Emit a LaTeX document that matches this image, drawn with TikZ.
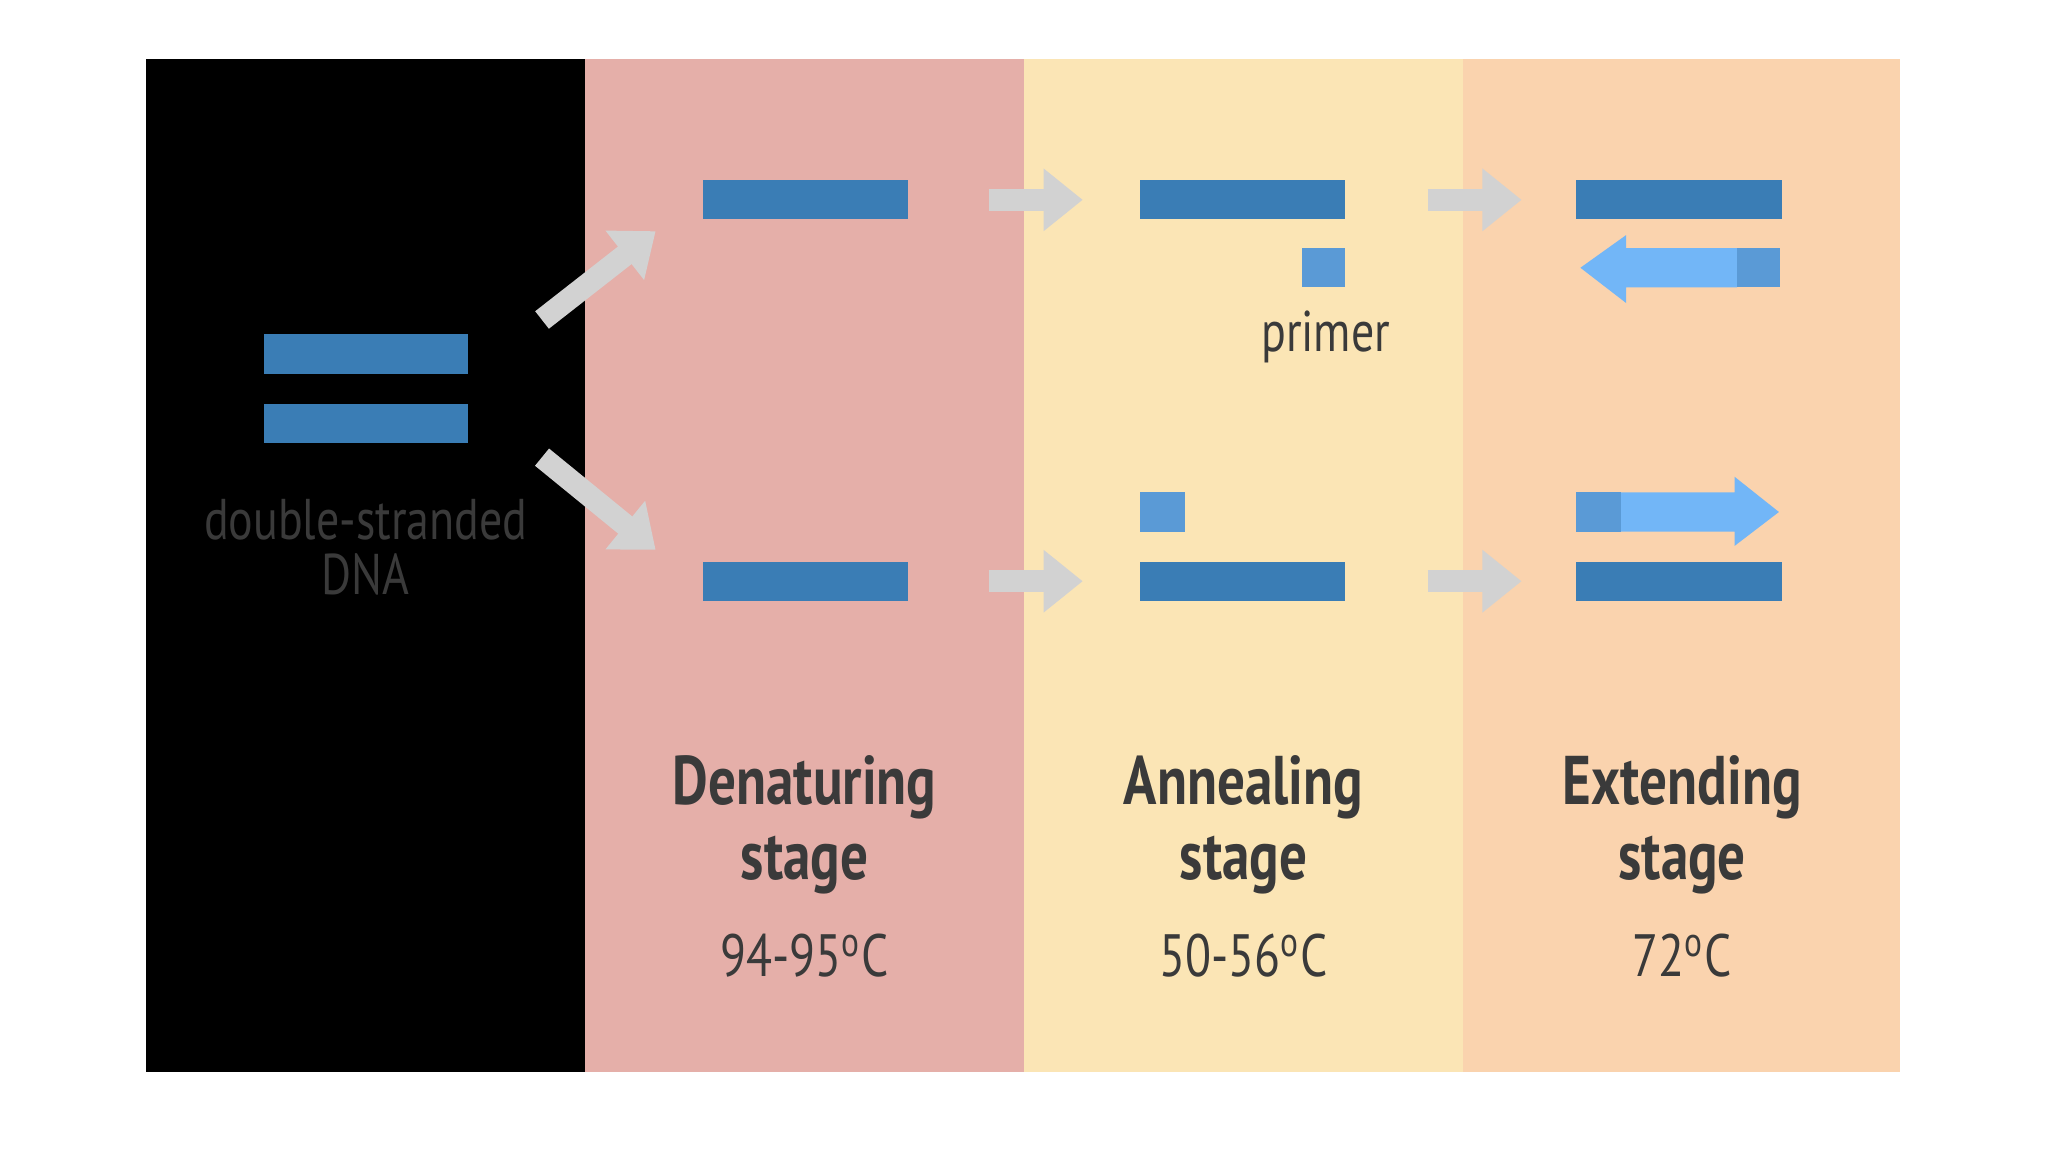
\documentclass[tikz,border=0pt]{standalone}
\usepackage{fontspec}
\setmainfont{PT Sans}
\usetikzlibrary{arrows.meta}
\definecolor{dna}{HTML}{3A7DB5}
\definecolor{prim}{HTML}{5A9AD6}
\definecolor{ext}{HTML}{72B6F7}
\definecolor{pinkbg}{HTML}{E5AFA9}
\definecolor{yelbg}{HTML}{FBE5B5}
\definecolor{orbg}{HTML}{FAD3AE}
\definecolor{arr}{HTML}{D2D2D2}
\definecolor{txt}{HTML}{3A3A3A}
\newcommand{\narw}[1]{\scalebox{0.8}[1]{#1}}
\begin{document}
\begin{tikzpicture}[x=0.01cm,y=-0.01cm,
  strand/.style={fill=dna,draw=none},
  garrow/.style={draw=arr,line width=0.17cm,-{Triangle[width=0.46cm,length=0.3cm]}},
  lab/.style={text=txt,font=\fontsize{15}{18}\selectfont\bfseries,inner sep=0},
  temp/.style={text=txt,font=\fontsize{13}{16}\selectfont,inner sep=0},
  small/.style={text=txt,font=\fontsize{12.5}{15}\selectfont,inner sep=0}]
\useasboundingbox (0,0) rectangle (1568,882);
\fill[white] (0,0) rectangle (1568,882);
\fill[black] (112,45) rectangle (448,821);
\fill[pinkbg] (448,45) rectangle (784,821);
\fill[yelbg] (784,45) rectangle (1120,821);
\fill[orbg] (1120,45) rectangle (1455,821);
% original DNA
\fill[strand] (202,256) rectangle (358,286);
\fill[strand] (202,309) rectangle (358,339);
\node[small] (ds) at (280,398) {\narw{double-stranded}};
\node[small] (dna) at (280,440) {\narw{DNA}};
% split arrows
\coordinate (s1) at (415,245); \coordinate (e1) at (502,177);
\coordinate (s2) at (415,350); \coordinate (e2) at (502,421);
\draw[garrow] (s1) -- (e1);
\draw[garrow] (s2) -- (e2);
% strands
\foreach \x in {538,873,1207}{
  \fill[strand] (\x,138) rectangle (\x+157,168);
  \fill[strand] (\x,430) rectangle (\x+157,460);
}
% horizontal arrows
\foreach \x in {757,1093}{
  \coordinate (a\x) at (\x,153); \coordinate (b\x) at (\x+72,153);
  \draw[garrow] (a\x) -- (b\x);
  \coordinate (c\x) at (\x,445); \coordinate (d\x) at (\x+72,445);
  \draw[garrow] (c\x) -- (d\x);
}
% primers annealing
\fill[prim] (997,190) rectangle (1030,220);
\fill[prim] (873,377) rectangle (907,407);
\node[small] (pr) at (1015,258) {\narw{primer}};
% extending
\fill[ext] (1330,190) -- (1245,190) -- (1245,180) -- (1210,205) -- (1245,232) -- (1245,220) -- (1330,220) -- cycle;
\fill[prim] (1330,190) rectangle (1363,220);
\fill[ext] (1241,377) -- (1328,377) -- (1328,365) -- (1362,392) -- (1328,418) -- (1328,407) -- (1241,407) -- cycle;
\fill[prim] (1207,377) rectangle (1241,407);
% labels
\node[lab] (l1) at (616,603) {\narw{Denaturing}};
\node[lab] (l1b) at (616,662) {\narw{stage}};
\node[temp] (t1) at (616,732) {\narw{94-95\textsuperscript{o}C}};
\node[lab] (l2) at (952,603) {\narw{Annealing}};
\node[lab] (l2b) at (952,662) {\narw{stage}};
\node[temp] (t2) at (952,732) {\narw{50-56\textsuperscript{o}C}};
\node[lab] (l3) at (1288,603) {\narw{Extending}};
\node[lab] (l3b) at (1288,662) {\narw{stage}};
\node[temp] (t3) at (1288,732) {\narw{72\textsuperscript{o}C}};
\end{tikzpicture}
\end{document}
